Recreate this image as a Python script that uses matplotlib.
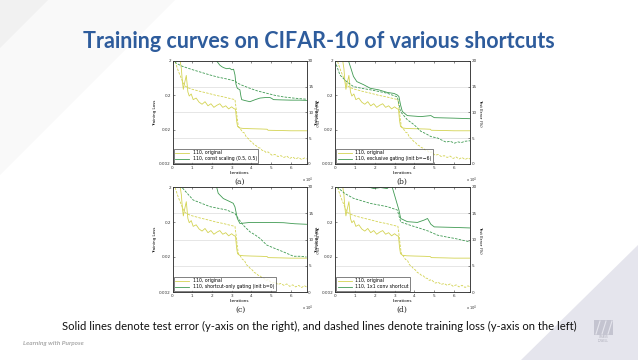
import matplotlib
matplotlib.use("Agg")
import matplotlib.pyplot as plt
from matplotlib.patches import Polygon, Rectangle

# ---------------- data ----------------
title_text = "Training curves on CIFAR-10 of various shortcuts"
caption_text = ("Solid lines denote test error (y-axis on the right), and dashed lines "
                "denote training loss (y-axis on the left)")
panel_tags = ["(a)", "(b)", "(c)", "(d)"]
legend_orig = "110, original"
legend_green = ["110, const scaling (0.5, 0.5)",
                "110, exclusive gating (init b=\u22126)",
                "110, shortcut-only gating (init b=0)",
                "110, 1x1 conv shortcut"]

loss_ticks = [0.002, 0.02, 0.2, 2]
loss_tick_labels = ["0.002", "0.02", "0.2", "2"]
err_ticks = [0, 5, 10, 15, 20]
iter_ticks = [0, 1, 2, 3, 4, 5, 6]

# 110 original (yellow)
orig_loss_x = [0.0, 0.12, 0.3, 0.45, 0.55, 0.65, 0.8, 1.0, 1.2, 1.4, 1.6, 1.8, 2.0, 2.2,
               2.4, 2.6, 2.8, 3.0, 3.17, 3.22, 3.28, 3.34, 3.45, 3.55, 3.65, 3.75, 3.85,
               3.95, 4.05, 4.15, 4.25, 4.35, 4.45, 4.55, 4.65, 4.75, 4.85, 4.95, 5.05,
               5.2, 5.35, 5.5, 5.65, 5.8, 5.95, 6.1, 6.25, 6.4, 6.55, 6.7, 6.8]
orig_loss = [2.3, 2.0, 1.0, 0.62, 0.45, 0.37, 0.33, 0.30, 0.28, 0.26, 0.245, 0.23, 0.215,
             0.20, 0.19, 0.18, 0.168, 0.158, 0.15, 0.09, 0.045, 0.025, 0.021, 0.017,
             0.016, 0.012, 0.011, 0.0093, 0.0085, 0.0072, 0.0068, 0.0060, 0.0058,
             0.0050, 0.0049, 0.0043, 0.0045, 0.0040, 0.0036, 0.0038, 0.0033, 0.0035,
             0.0031, 0.0034, 0.0029, 0.0032, 0.0028, 0.0031, 0.0027, 0.0030, 0.0028]
orig_err_x = [0.35, 0.45, 0.5, 0.55, 0.6, 0.7, 0.78, 0.85, 0.95, 1.05, 1.2, 1.35, 1.5,
              1.65, 1.8, 1.95, 2.1, 2.25, 2.4, 2.55, 2.7, 2.85, 3.0, 3.1, 3.2, 3.25,
              3.3, 3.4, 3.6, 4.0, 4.5, 4.8, 4.85, 5.5, 6.0, 6.8]
orig_err = [21.0, 18.5, 16.0, 14.5, 15.5, 17.2, 14.0, 13.2, 13.6, 12.5, 12.8, 12.0, 11.6,
            12.1, 11.3, 11.7, 11.0, 11.4, 11.7, 11.0, 11.3, 10.7, 11.1, 10.8, 10.6, 8.5,
            7.3, 7.0, 6.9, 6.85, 6.8, 6.75, 6.55, 6.5, 6.45, 6.45]

# (a) const scaling
a_err_x = [2.15, 2.24, 2.4, 2.5, 2.6, 2.75, 2.9, 3.0, 3.1, 3.17, 3.22, 3.29, 3.42, 3.47,
           3.51, 3.7, 3.93, 4.2, 4.44, 4.7, 4.95, 5.05, 5.12, 5.5, 6.0, 6.5, 6.8]
a_err = [21.0, 20.0, 19.2, 18.9, 18.7, 18.5, 18.6, 18.3, 18.4, 17.3, 15.5, 14.7, 14.4,
         13.2, 12.5, 12.3, 12.1, 12.5, 12.8, 12.9, 12.9, 12.7, 12.5, 12.45, 12.4, 12.4, 12.35]
a_loss_x = [0.0, 0.2, 0.5, 1.05, 1.5, 1.9, 2.3, 2.75, 3.2, 3.25, 3.5, 3.93, 4.3, 4.78,
            5.2, 5.63, 6.2, 6.8]
a_loss = [2.3, 1.71, 1.4, 1.1, 0.92, 0.785, 0.68, 0.60, 0.52, 0.47, 0.40, 0.32, 0.27,
          0.23, 0.20, 0.18, 0.165, 0.154]

# (b) exclusive gating
b_err_x = [0.6, 0.68, 0.8, 0.93, 1.1, 1.44, 1.78, 2.2, 2.63, 2.97, 3.14, 3.22, 3.3, 3.39,
           3.64, 4.32, 4.83, 5.0, 6.0, 6.8]
b_err = [22.0, 20.0, 18.6, 17.0, 16.0, 15.4, 14.7, 14.4, 13.9, 13.7, 13.4, 13.1, 11.5,
         10.2, 9.4, 9.2, 9.4, 9.0, 8.9, 8.8]
b_loss_x = [0.0, 0.25, 0.59, 0.93, 1.35, 1.78, 2.2, 2.63, 3.14, 3.3, 3.64, 3.98, 4.32,
            4.6, 4.83, 5.17, 5.4, 5.59, 5.8, 6.02, 6.2, 6.36, 6.55, 6.8]
b_loss = [2.0, 0.78, 0.50, 0.36, 0.32, 0.29, 0.26, 0.23, 0.18, 0.067, 0.039, 0.028,
          0.018, 0.015, 0.0126, 0.0114, 0.0098, 0.0087, 0.0092, 0.0081, 0.0088, 0.0084,
          0.0092, 0.0095]

# (c) shortcut-only gating
c_err_x = [2.2, 2.24, 2.32, 2.58, 2.92, 3.08, 3.17, 3.29, 3.42, 3.93, 4.78, 5.63, 6.2, 6.8]
c_err = [21.0, 20.0, 18.8, 17.8, 17.2, 16.9, 16.2, 14.0, 13.05, 13.25, 13.25, 13.2,
         13.0, 12.9]
c_loss_x = [0.4, 0.46, 1.05, 1.9, 2.75, 3.17, 3.34, 3.6, 3.93, 4.2, 4.44, 4.78, 5.2,
            5.63, 6.14, 6.5, 6.8]
c_loss = [2.3, 2.0, 0.85, 0.55, 0.44, 0.35, 0.25, 0.16, 0.105, 0.085, 0.068, 0.044,
          0.035, 0.028, 0.021, 0.021, 0.020]

# (d) 1x1 conv shortcut
d_err_x = [1.6, 1.69, 1.95, 2.29, 2.63, 2.8, 2.88, 3.05, 3.22, 3.31, 3.64, 4.15, 4.49,
           4.66, 4.83, 5.0, 6.02, 6.8]
d_err = [20.6, 20.0, 19.7, 19.9, 19.7, 20.4, 20.0, 17.8, 15.6, 14.0, 13.4, 13.25, 13.7,
         14.0, 12.9, 12.4, 12.3, 12.2]
d_loss_x = [0.1, 0.5, 0.93, 1.78, 2.63, 3.14, 3.31, 3.81, 4.32, 4.7, 5.17, 5.6, 6.02, 6.8]
d_loss = [2.0, 1.3, 0.95, 0.68, 0.55, 0.44, 0.20, 0.16, 0.13, 0.11, 0.084, 0.075, 0.068,
          0.054]

green_err = [(a_err_x, a_err), (b_err_x, b_err), (c_err_x, c_err), (d_err_x, d_err)]
green_loss = [(a_loss_x, a_loss), (b_loss_x, b_loss), (c_loss_x, c_loss), (d_loss_x, d_loss)]

# ---------------- style ----------------
YEL = "#d3d352"
GRN = "#3f9a52"
TITLE_C = "#2e5c9c"
W, H = 638, 360

fig = plt.figure(figsize=(W / 100, H / 100), dpi=100)
fig.patch.set_facecolor("white")

def fx(x):
    return x / W

def fy(y):
    return 1 - y / H

# background decorations
bg = fig.add_axes([0, 0, 1, 1], zorder=-10)
bg.set_xlim(0, W)
bg.set_ylim(H, 0)
bg.axis("off")
bg.add_patch(Polygon([(0, 0), (175, 0), (0, 175)], closed=True, color="#f9f9f9", lw=0))
bg.add_patch(Polygon([(0, 0), (48, 0), (0, 48)], closed=True, color="#f1f1f1", lw=0))
bg.add_patch(Polygon([(521, 360), (638, 245), (638, 360)], closed=True, color="#e5e5ed", lw=0))
bg.add_patch(Rectangle((594, 320), 19, 15, color="#c4c4d0", lw=0))
for k in range(3):
    bg.plot([596 + 6 * k, 600 + 6 * k], [334, 321], color="#e5e5ed", lw=0.8)
bg.text(603.5, 339, "UMASS\nLOWELL", fontsize=2, color="#b0b0bc", ha="center",
        va="center", linespacing=0.9)

fig.text(fx(319), fy(41), title_text, fontsize=15.5, fontweight="bold", color=TITLE_C,
         ha="center", va="center", family="Lato")
fig.text(fx(319), fy(326), caption_text, fontsize=8.1, color="#111111",
         ha="center", va="center", family="Lato")
fig.text(fx(23), fy(343), "Learning with Purpose", fontsize=4.6, color="#a8a8a8",
         ha="left", va="center", family="Lato", style="italic", fontweight="bold")

boxes = [(172.5, 306.5, 61, 164), (335, 470, 61, 164),
         (172.5, 306.5, 187, 292), (335, 470, 187, 292)]
tag_pos = [(240, 182), (402, 182), (240, 310), (402, 310)]

FS = 3.0
for i, (l, r, t, b) in enumerate(boxes):
    ax = fig.add_axes([fx(l), fy(b), (r - l) / W, (b - t) / H])
    ax2 = ax.twinx()
    ax.set_yscale("log")
    ax.set_ylim(0.002, 2)
    ax.set_xlim(0, 6.8)
    ax2.set_ylim(0, 20)
    ax.set_yticks(loss_ticks)
    ax.set_yticklabels(loss_tick_labels)
    ax.minorticks_off()
    ax2.set_yticks(err_ticks)
    ax.set_xticks(iter_ticks)
    ax2.grid(axis="y", color="#dcdcdc", lw=0.5)
    for a in (ax, ax2):
        a.tick_params(direction="in", length=1.5, width=0.4, labelsize=FS, pad=1.2,
                      top=True, colors="#333333")
        for s in a.spines.values():
            s.set_linewidth(0.5)
            s.set_color("#333333")
    ax.tick_params(axis="y", right=False)
    ax2.tick_params(axis="y", left=False)
    ax.set_zorder(ax2.get_zorder() + 1)
    ax.patch.set_visible(False)

    # curves
    ax2.plot(orig_err_x, orig_err, color=YEL, lw=0.6, label=legend_orig, clip_on=True)
    gx, gy = green_err[i]
    ax2.plot(gx, gy, color=GRN, lw=0.6, label=legend_green[i], clip_on=True)
    ax.plot(orig_loss_x, orig_loss, color=YEL, lw=0.6, ls=(0, (3, 1.5)))
    lx, ly = green_loss[i]
    ax.plot(lx, ly, color=GRN, lw=0.6, ls=(0, (3, 1.5)))

    ax.set_ylabel("Training Loss", fontsize=FS, labelpad=1.5)
    ax2.set_ylabel("Test Error (%)", fontsize=FS, labelpad=3.5, rotation=-90)
    ax.set_xlabel("Iterations", fontsize=FS, labelpad=1)
    ax.text(0.97, -0.11, r"x 10$^4$", transform=ax.transAxes, fontsize=2.6,
            ha="left", va="top", color="#333333")

    h1, l1 = ax2.get_legend_handles_labels()
    leg = ax.legend(h1, l1, loc="lower left", fontsize=3.3, frameon=True, fancybox=False,
                    handlelength=3, borderaxespad=0.3, borderpad=0.3, labelspacing=0.2,
                    handletextpad=0.8)
    leg.get_frame().set_edgecolor("#222222")
    leg.get_frame().set_linewidth(0.5)

    fig.text(fx(tag_pos[i][0]), fy(tag_pos[i][1]), panel_tags[i], fontsize=5.5,
             ha="center", va="center", family="DejaVu Serif", color="#222222")

fig.savefig("out.png", dpi=100)
